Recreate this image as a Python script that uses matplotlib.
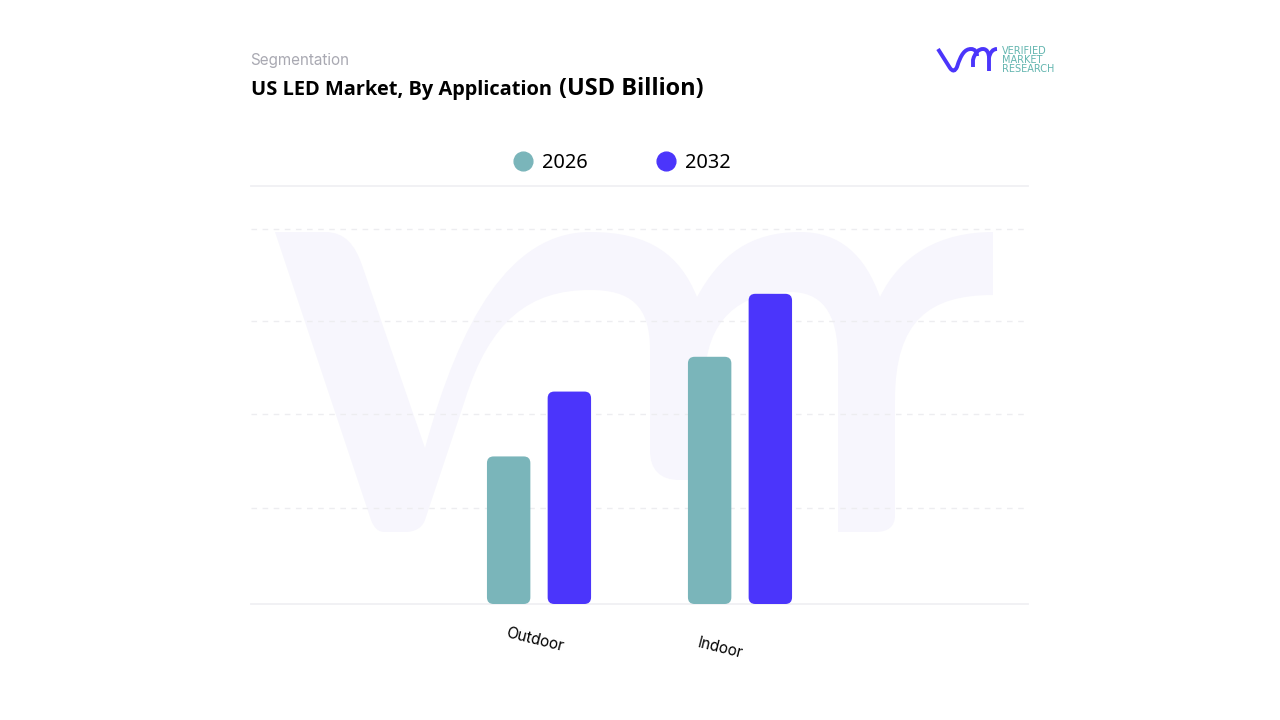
import matplotlib
matplotlib.use("Agg")
import matplotlib.pyplot as plt
from matplotlib.lines import Line2D
from matplotlib.patches import FancyBboxPatch, PathPatch
from matplotlib.path import Path

categories = ["Outdoor", "Indoor"]
years = ["2026", "2032"]
values_2026 = [1.57, 2.63]
values_2032 = [2.26, 3.30]
grid_values = [1.02, 2.02, 3.01, 3.99]

teal = "#7AB5BA"
blue = "#4B35FB"

fig = plt.figure(figsize=(12.8, 7.2), dpi=100, facecolor="white")

# pixel canvas for the watermark, logo and headings
bg = fig.add_axes([0, 0, 1, 1], zorder=0)
bg.set_xlim(0, 1280)
bg.set_ylim(720, 0)
bg.axis("off")

M, L, C = Path.MOVETO, Path.LINETO, Path.CURVE4
mark = [
    (M, (275, 232)), (L, (325, 232)),
    (C, (345, 232)), (C, (355, 245)), (C, (362, 265)),
    (L, (425, 448)),
    (C, (460, 320)), (C, (510, 232)), (C, (590, 232)),
    (C, (650, 232)), (C, (680, 255)), (C, (697, 297)),
    (C, (720, 255)), (C, (750, 232)), (C, (800, 232)),
    (C, (840, 232)), (C, (865, 255)), (C, (880, 297)),
    (C, (900, 255)), (C, (940, 232)), (C, (993, 232)),
    (L, (993, 295)),
    (C, (930, 295)), (C, (895, 320)), (C, (895, 400)),
    (L, (895, 515)),
    (C, (895, 527)), (C, (888, 532)), (C, (875, 532)),
    (L, (838, 532)), (L, (838, 360)),
    (C, (838, 310)), (C, (820, 292)), (C, (790, 292)),
    (C, (740, 292)), (C, (705, 320)), (C, (705, 380)),
    (L, (705, 480)), (L, (680, 480)),
    (C, (660, 480)), (C, (650, 470)), (C, (650, 450)),
    (L, (650, 350)),
    (C, (650, 305)), (C, (630, 290)), (C, (590, 290)),
    (C, (530, 290)), (C, (490, 320)), (C, (465, 400)),
    (L, (425, 520)),
    (C, (422, 528)), (C, (415, 532)), (C, (405, 532)),
    (L, (385, 532)),
    (C, (378, 532)), (C, (374, 528)), (C, (371, 520)),
    (L, (275, 232)),
]
bg.add_patch(PathPatch(Path([p for _, p in mark], [c for c, _ in mark]),
                       facecolor="#F7F6FD", edgecolor="none"))

# small logo
strokes = [
    [(M, (938, 49)), (L, (950, 68)), (C, (953, 72)), (C, (955, 71)), (C, (957, 67)),
     (C, (961, 54)), (C, (965, 49)), (C, (971, 49)),
     (C, (975, 49)), (C, (977, 52)), (C, (977, 56))],
    [(M, (973, 67)), (L, (973, 60)), (C, (975, 52)), (C, (979, 49)), (C, (983, 49)),
     (C, (987, 49)), (C, (989, 53)), (C, (989, 58)), (L, (989, 71))],
    [(M, (989, 58)), (C, (990, 52)), (C, (993, 49)), (C, (997, 49))],
]
for st in strokes:
    bg.add_patch(PathPatch(Path([p for _, p in st], [c for c, _ in st]),
                           facecolor="none", edgecolor=blue, lw=2.8))
for y, word in zip([50.5, 60, 69], ["VERIFIED", "MARKET", "RESEARCH"]):
    bg.text(1002, y, word, color="#62B5AF", fontsize=7, family="DejaVu Sans",
            va="center", ha="left")

bg.text(250.5, 60.5, "Segmentation", color="#A9A9B2", fontsize=11, family="Inter",
        va="center", ha="left")
bg.text(251, 90.5, "US LED Market, By Application", color="black", fontsize=14.45,
        family="Open Sans", fontweight="bold", va="center", ha="left")
bg.text(559, 89.5, "(USD Billion)", color="black", fontsize=16.9,
        family="Open Sans", fontweight="bold", va="center", ha="left")

# chart area: x 251-1028, y 186-604 in pixels
ax = fig.add_axes([251 / 1280, 1 - 604 / 720, 777 / 1280, 418 / 720], zorder=1)
ax.patch.set_alpha(0)
ax.set_xlim(-1.433, 2.433)
ax.set_ylim(0, 4.447)
for s in ["left", "right"]:
    ax.spines[s].set_visible(False)
for s in ["top", "bottom"]:
    ax.spines[s].set_color("#F0F0F3")
    ax.spines[s].set_linewidth(1.3)
ax.set_yticks(grid_values)
ax.set_yticklabels([])
ax.set_xticks([])
ax.tick_params(left=False)
ax.grid(axis="y", color="#EDEDF0", linestyle=(0, (4, 4)), linewidth=1)
ax.set_axisbelow(True)

bar_w = 0.216
offset = 0.151
pad_x = 0.033
pad_y = pad_x * 2.14
for i, cat in enumerate(categories):
    for val, col, dx in [(values_2026[i], teal, -offset), (values_2032[i], blue, offset)]:
        # rounded corners, same radius on screen in both directions
        ax.add_patch(FancyBboxPatch((i + dx - bar_w / 2 + pad_x, pad_y),
                                    bar_w - 2 * pad_x, val - 2 * pad_y,
                                    boxstyle=f"round,pad={pad_x},rounding_size={pad_x}",
                                    mutation_aspect=2.14, facecolor=col, edgecolor="none",
                                    zorder=3, clip_on=False))

label_shift = [-4, -20]
label_drop = [-36, -44]
for i, cat in enumerate(categories):
    ax.annotate(cat, xy=(i, 0), xytext=(label_shift[i] * 0.72, label_drop[i] * 0.72),
                textcoords="offset points", rotation=-14, rotation_mode="anchor",
                ha="center", va="center", fontsize=11, family="Inter", color="black")

handles = [Line2D([], [], linestyle="none", marker="o", markersize=13.5, color=c)
           for c in [teal, blue]]
leg = fig.legend(handles, years, loc="center", bbox_to_anchor=(622 / 1280, 1 - 162.5 / 720),
                 ncol=2, frameon=False, handlelength=1.0, handletextpad=0.45, columnspacing=3.4,
                 prop={"family": "Noto Sans", "size": 14.4})

fig.savefig("out.png", dpi=100, facecolor="white")
